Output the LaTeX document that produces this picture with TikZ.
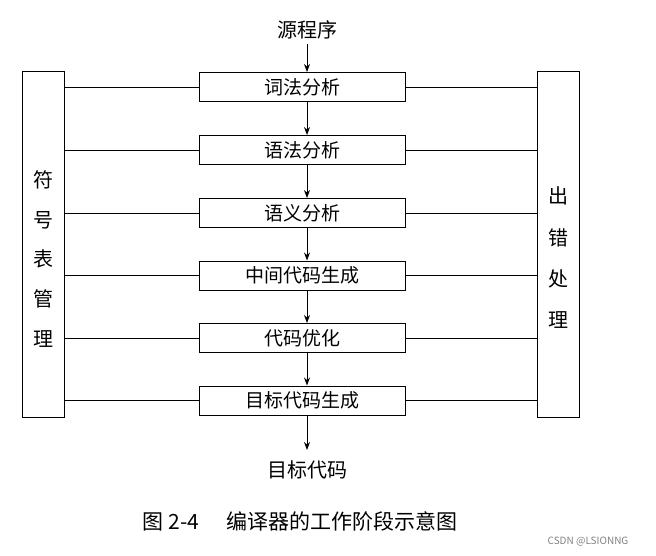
\documentclass[tikz,border=0pt]{standalone}
\usepackage{fontspec}
\newfontfamily\cjk{Noto Sans CJK SC}
\usetikzlibrary{arrows.meta}
\begin{document}
\begin{tikzpicture}[x=1pt,y=-1pt,
  stage/.style={draw,line width=1pt,minimum width=206pt,minimum height=29pt,inner sep=0pt,font=\cjk\fontsize{19}{19}\selectfont},
  side/.style={draw,line width=1pt,minimum width=42pt,minimum height=345pt,inner sep=0pt},
  lbl/.style={font=\cjk\fontsize{20}{20}\selectfont,inner sep=0pt},
  arr/.style={-{Stealth[length=8pt,width=6pt]},line width=0.8pt},
  ln/.style={line width=0.8pt}]
\useasboundingbox (0,0) rectangle (656,556);
\node[lbl] (src) at (307,30) {源程序};
\node[stage] (s1) at (302,87) {词法分析};
\node[stage] (s2) at (302,150) {语法分析};
\node[stage] (s3) at (302,213) {语义分析};
\node[stage] (s4) at (302,275.5) {中间代码生成};
\node[stage] (s5) at (302,338) {代码优化};
\node[stage] (s6) at (302,400.5) {目标代码生成};
\node[lbl] (out) at (307,470) {目标代码};
\node[side] (L) at (43,244.5) {};
\node[side] (R) at (558,244.5) {};
\foreach \t/\y [count=\i] in {符/180,号/220,表/259,管/299,理/339}
  \node[lbl] (l\i) at (43,\y) {\t};
\foreach \t/\y [count=\i] in {出/196,错/238,处/279,理/320}
  \node[lbl] (r\i) at (558,\y) {\t};
\coordinate (a0) at (307,44);
\draw[arr] (a0) -- (s1.north -| a0);
\foreach \a/\b in {s1/s2,s2/s3,s3/s4,s4/s5,s5/s6}
  \draw[arr] (\a.south -| a0) -- (\b.north -| a0);
\coordinate (e) at (307,450);
\draw[arr] (s6.south -| a0) -- (e);
\foreach \s in {s1,s2,s3,s4,s5,s6}{
  \draw[ln] (L.east |- \s.west) -- (\s.west);
  \draw[ln] (\s.east) -- (R.west |- \s.east);}
\node[font=\cjk\fontsize{21}{21}\selectfont] (cap) at (300,521) {图 2-4\hspace{1.3em}编译器的工作阶段示意图};
\node[font=\cjk\fontsize{10}{10}\selectfont,text=gray] (wm) at (588,542) {CSDN @LSIONNG};
\end{tikzpicture}
\end{document}
